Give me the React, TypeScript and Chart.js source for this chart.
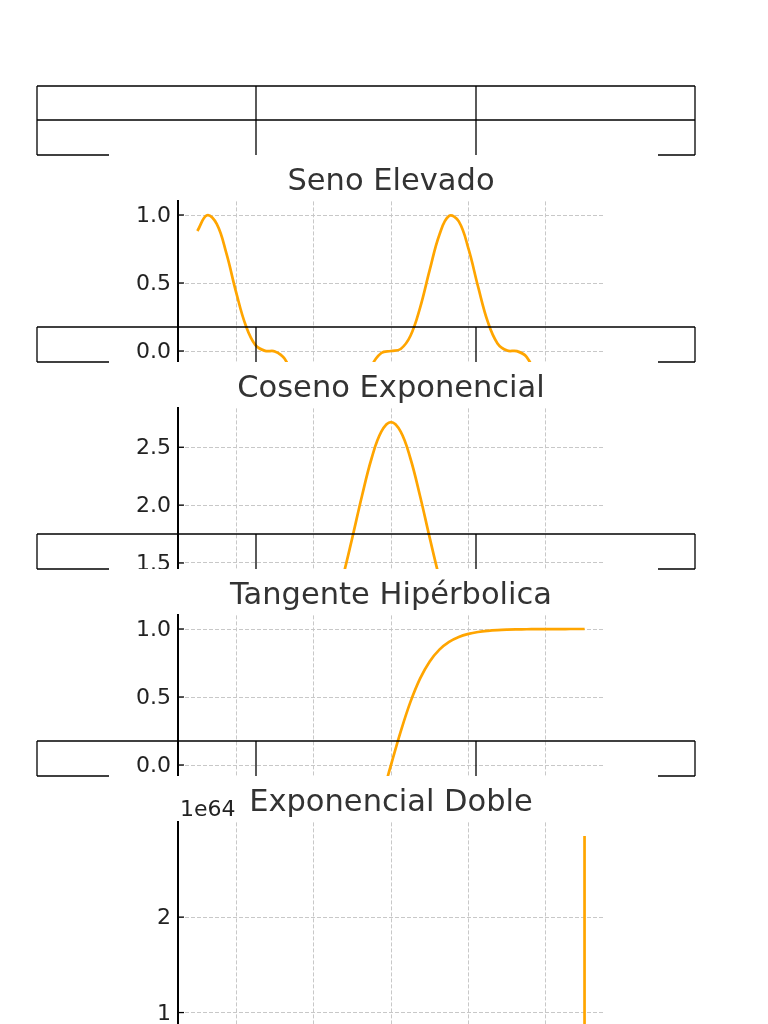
import React, { useEffect, useRef } from 'react';
import { Chart, registerables } from 'chart.js';

Chart.register(...registerables);

const FONT = '"DejaVu Sans", "Liberation Sans", sans-serif';
const ORANGE = '#FFA500';

// ---- data ----
const titles = ['Seno Elevado', 'Coseno Exponencial', 'Tangente Hipérbolica', 'Exponencial Doble'];

const xValues = [
  -5, -4.75, -4.5, -4.25, -4, -3.75, -3.5, -3.25, -3, -2.75, -2.5, -2.25, -2, -1.75, -1.5, -1.25, -1, -0.75, -0.5, -0.25,
  0, 0.25, 0.5, 0.75, 1, 1.25, 1.5, 1.75, 2, 2.25, 2.5, 2.75, 3, 3.25, 3.5, 3.75, 4, 4.25, 4.5, 4.75, 5,
];

const senoElevado = [
  0.882, 0.998, 0.934, 0.717, 0.433, 0.187, 0.043, 0.001, -0.003, -0.056, -0.214, -0.471, -0.752, -0.953, -0.993, -0.855, -0.596, -0.317, -0.110, -0.015,
  0, 0.015, 0.110, 0.317, 0.596, 0.855, 0.993, 0.953, 0.752, 0.471, 0.214, 0.056, 0.003, -0.001, -0.043, -0.187, -0.433, -0.717, -0.934, -0.998, -0.882,
];

const cosenoExponencial = [
  1.328, 1.038, 0.810, 0.640, 0.520, 0.440, 0.392, 0.370, 0.372, 0.397, 0.449, 0.534, 0.660, 0.837, 1.073, 1.371, 1.717, 2.079, 2.405, 2.635,
  2.718, 2.635, 2.405, 2.079, 1.717, 1.371, 1.073, 0.837, 0.660, 0.534, 0.449, 0.397, 0.372, 0.370, 0.392, 0.440, 0.520, 0.640, 0.810, 1.038, 1.328,
];

const tangenteHiperbolica = [
  -0.9999, -0.9999, -0.9998, -0.9996, -0.9993, -0.9989, -0.9982, -0.9970, -0.9951, -0.9919, -0.9866, -0.9780, -0.9640, -0.9414, -0.9051, -0.8483, -0.7616, -0.6351, -0.4621, -0.2449,
  0, 0.2449, 0.4621, 0.6351, 0.7616, 0.8483, 0.9051, 0.9414, 0.9640, 0.9780, 0.9866, 0.9919, 0.9951, 0.9970, 0.9982, 0.9989, 0.9993, 0.9996, 0.9998, 0.9999, 0.9999,
];

const xDoble = [-5, -4, -3, -2, -1, 0, 1, 2, 3, 4, 4.5, 4.75, 4.9, 4.95, 4.975, 4.99, 4.995, 5];
const exponencialDoble = [
  1.0068, 1.0185, 1.051, 1.1449, 1.4446, 2.7183, 15.154, 1618.2, 5.28e8, 5.14e23, 1.2e39, 1.3e50, 2.09e58, 2.04e61, 7.31e62, 6.55e63, 1.37e64, 2.85e64,
];

const xTicks = [-4, -2, 0, 2, 4];
const ticksSeno = [-1.0, -0.5, 0.0, 0.5, 1.0];
const ticksCoseno = [0.5, 1.0, 1.5, 2.0, 2.5];
const ticksTanh = [-1.0, -0.5, 0.0, 0.5, 1.0];
const ticksDoble = [0, 1e64, 2e64];

// ---- layout ----
const W = 768;
const STRIP_TOPS = [155, 362, 569, 776];
const STRIP_HEIGHTS = [207, 207, 207, 248];
const AXIS_TOP = 46.4;
const AXIS_HEIGHT = 299.2;
const AXIS_LEFT = 178;
const AXIS_RIGHT = 604;
const TITLE_SIZE = 30.5;
const TITLE_PAD_TOP = 11.6;

const specs = [
  { title: titles[0], xs: xValues, ys: senoElevado, min: -1.1, max: 1.1, ticks: ticksSeno, fmt: (v: number) => v.toFixed(1).replace('-', '\u2212'), tension: 0.4, offset: '' },
  { title: titles[1], xs: xValues, ys: cosenoExponencial, min: 0.2504, max: 2.8358, ticks: ticksCoseno, fmt: (v: number) => v.toFixed(1), tension: 0.4, offset: '' },
  { title: titles[2], xs: xValues, ys: tangenteHiperbolica, min: -1.1, max: 1.1, ticks: ticksTanh, fmt: (v: number) => v.toFixed(1).replace('-', '\u2212'), tension: 0.4, offset: '' },
  { title: titles[3], xs: xDoble, ys: exponencialDoble, min: -1.425e63, max: 2.9925e64, ticks: ticksDoble, fmt: (v: number) => (v / 1e64).toFixed(0), tension: 0, offset: '1e64' },
];

const inwardTicks = {
  id: 'inwardTicks',
  afterDraw(chart: any) {
    const s = chart.scales.y;
    const { ctx, chartArea } = chart;
    ctx.save();
    ctx.strokeStyle = '#000';
    ctx.lineWidth = 1.3;
    s.ticks.forEach((t: any) => {
      const y = s.getPixelForValue(t.value);
      if (y < chartArea.top - 1 || y > chartArea.bottom + 1) return;
      ctx.beginPath();
      ctx.moveTo(chartArea.left, y);
      ctx.lineTo(chartArea.left + 6, y);
      ctx.stroke();
    });
    ctx.restore();
  },
};

const offsetText = {
  id: 'offsetText',
  afterDraw(chart: any, _args: any, opts: any) {
    if (!opts || !opts.text) return;
    const { ctx, chartArea } = chart;
    ctx.save();
    ctx.font = `22px ${FONT}`;
    ctx.fillStyle = '#222';
    ctx.textAlign = 'left';
    ctx.textBaseline = 'alphabetic';
    ctx.fillText(opts.text, chartArea.left + 2, chartArea.top - 6);
    ctx.restore();
  },
};

function ChartStrip({ spec, top, height }: any) {
  const ref = useRef<HTMLCanvasElement>(null);
  const bottom = AXIS_TOP + AXIS_HEIGHT;
  const canvasH = Math.ceil(bottom);
  useEffect(() => {
    if (!ref.current) return;
    const chart = new Chart(ref.current, {
      type: 'line',
      data: {
        datasets: [
          {
            data: spec.xs.map((x: number, i: number) => ({ x, y: spec.ys[i] })),
            borderColor: ORANGE,
            borderWidth: 2.7,
            pointRadius: 0,
            fill: false,
            tension: spec.tension,
          },
        ],
      },
      options: {
        animation: false,
        responsive: false,
        devicePixelRatio: 1,
        events: [],
        layout: { padding: { left: 0, right: W - AXIS_RIGHT, top: 0, bottom: canvasH - bottom } },
        plugins: {
          legend: { display: false },
          tooltip: { enabled: false },
          title: {
            display: true,
            text: spec.title,
            fullSize: false,
            color: '#333',
            font: { family: FONT, size: TITLE_SIZE, weight: 'normal', lineHeight: 1 },
            padding: { top: TITLE_PAD_TOP, bottom: AXIS_TOP - TITLE_PAD_TOP - TITLE_SIZE },
          },
          offsetText: { text: spec.offset },
        } as any,
        scales: {
          x: {
            type: 'linear',
            min: -5.5,
            max: 5.5,
            afterBuildTicks: (s: any) => {
              s.ticks = xTicks.map((v) => ({ value: v }));
            },
            afterFit: (s: any) => {
              s.height = 0;
              s.paddingLeft = 0;
              s.paddingRight = 0;
            },
            ticks: { display: false },
            grid: { color: '#c8c8c8', lineWidth: 1, drawTicks: false },
            border: { display: false, dash: [4, 2] },
          },
          y: {
            type: 'linear',
            min: spec.min,
            max: spec.max,
            afterBuildTicks: (s: any) => {
              s.ticks = spec.ticks.map((v: number) => ({ value: v }));
            },
            afterFit: (s: any) => {
              s.width = AXIS_LEFT;
              s.paddingTop = 0;
              s.paddingBottom = 0;
            },
            ticks: {
              font: { family: FONT, size: 22 },
              color: '#222',
              padding: 7,
              labelOffset: 1.5,
              callback: (v: any) => spec.fmt(Number(v)),
            },
            grid: { color: '#c8c8c8', lineWidth: 1, drawTicks: false },
            border: { display: true, color: '#000', width: 2, dash: [4, 2] },
          },
        },
      } as any,
      plugins: [inwardTicks, offsetText],
    });
    return () => chart.destroy();
  }, []);
  return (
    <div style={{ position: 'absolute', left: 0, top, width: W, height, overflow: 'hidden' }}>
      <canvas ref={ref} width={W} height={canvasH} style={{ display: 'block', width: W, height: canvasH }} />
    </div>
  );
}

const TABLE_COLS = [37, 256, 476, 695];
const TABLE_GAP = [109, 658];
const TOP_TABLE_ROWS = [86, 120];
const TOP_TABLE_BOTTOM = 155;
const STRIP_TABLE_TOPS = [327, 534, 741];
const STRIP_TABLE_ROW = 35;

function Tables() {
  const lines: any[] = [];
  const stroke = { stroke: '#000', strokeWidth: 1.3 };
  TOP_TABLE_ROWS.forEach((y, i) =>
    lines.push(<line key={`tr${i}`} x1={TABLE_COLS[0]} x2={TABLE_COLS[3]} y1={y} y2={y} {...stroke} />)
  );
  lines.push(<line key="tb1" x1={TABLE_COLS[0]} x2={TABLE_GAP[0]} y1={TOP_TABLE_BOTTOM} y2={TOP_TABLE_BOTTOM} {...stroke} />);
  lines.push(<line key="tb2" x1={TABLE_GAP[1]} x2={TABLE_COLS[3]} y1={TOP_TABLE_BOTTOM} y2={TOP_TABLE_BOTTOM} {...stroke} />);
  TABLE_COLS.forEach((x, i) =>
    lines.push(<line key={`tv${i}`} x1={x} x2={x} y1={TOP_TABLE_ROWS[0]} y2={TOP_TABLE_BOTTOM} {...stroke} />)
  );
  STRIP_TABLE_TOPS.forEach((t, k) => {
    const b = t + STRIP_TABLE_ROW;
    lines.push(<line key={`s${k}t`} x1={TABLE_COLS[0]} x2={TABLE_COLS[3]} y1={t} y2={t} {...stroke} />);
    lines.push(<line key={`s${k}b1`} x1={TABLE_COLS[0]} x2={TABLE_GAP[0]} y1={b} y2={b} {...stroke} />);
    lines.push(<line key={`s${k}b2`} x1={TABLE_GAP[1]} x2={TABLE_COLS[3]} y1={b} y2={b} {...stroke} />);
    TABLE_COLS.forEach((x, i) =>
      lines.push(<line key={`s${k}v${i}`} x1={x} x2={x} y1={t} y2={b} {...stroke} />)
    );
  });
  return (
    <svg width={W} height={1024} style={{ position: 'absolute', left: 0, top: 0, pointerEvents: 'none' }}>
      {lines}
    </svg>
  );
}

export default function App() {
  return (
    <div style={{ position: 'absolute', left: 0, top: 0, width: W, height: 1024, overflow: 'hidden', background: '#fff' }}>
      {specs.map((spec, i) => (
        <ChartStrip key={i} spec={spec} top={STRIP_TOPS[i]} height={STRIP_HEIGHTS[i]} />
      ))}
      <Tables />
    </div>
  );
}
